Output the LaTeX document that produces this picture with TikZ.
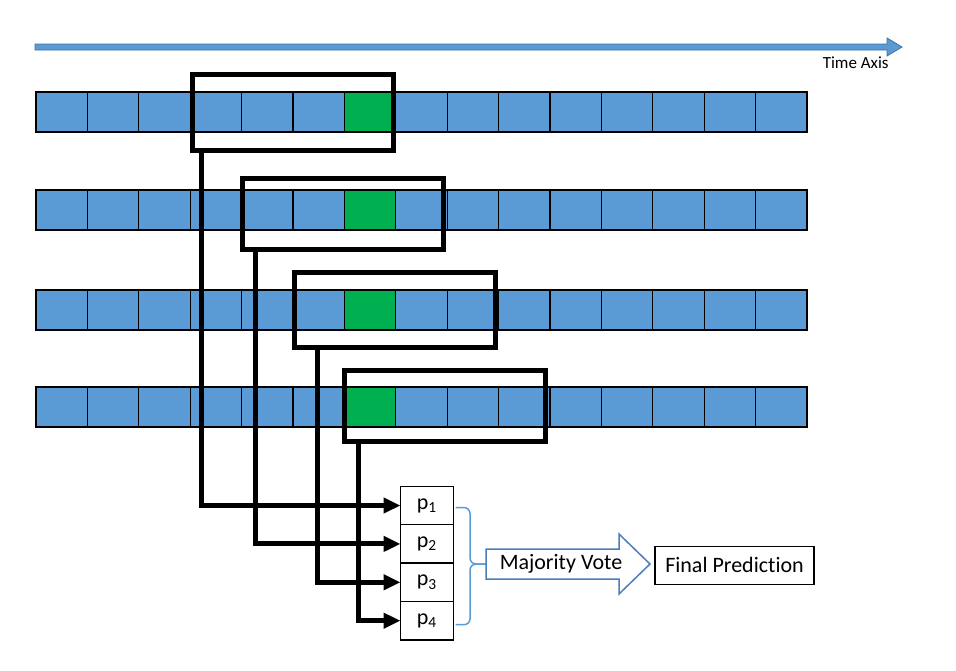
\documentclass[tikz,border=0pt]{standalone}
\usepackage{fontspec}
\setmainfont[Ligatures=CommonOff]{Carlito}
\usetikzlibrary{positioning,arrows.meta}

\definecolor{cellblue}{HTML}{5B9BD5}
\definecolor{hitgreen}{HTML}{00B050}
\definecolor{axisedge}{HTML}{41719C}
\definecolor{voteedge}{HTML}{4A7EBB}

\begin{document}
\begin{tikzpicture}[x=0.5pt,y=-0.5pt,>={Triangle[length=8.5pt,width=7.5pt]},
    cell/.style={draw=black,fill=cellblue,line width=0.55pt,minimum width=25.7pt,minimum height=20pt,inner sep=0pt,outer sep=0pt},
    hitcell/.style={cell,fill=hitgreen},
    window/.style={draw=black,line width=2.5pt,minimum width=100.5pt,inner sep=0pt},
    link/.style={->,line width=2.5pt},
    pbox/.style={draw=black,line width=0.75pt,minimum width=26.5pt,minimum height=19.2pt,inner sep=0pt,outer sep=0pt,font=\fontsize{11}{13}\selectfont},
    bracket/.style={draw=cellblue,line width=0.75pt,rounded corners=3pt},
    vote arrow/.style={draw=voteedge,fill=white,line width=0.75pt},
    label/.style={font=\fontsize{11}{13}\selectfont,inner sep=0pt}]

\useasboundingbox (0,0) rectangle (956,670);

\coordinate (t0) at (35,44);
\coordinate (t1) at (902,47);
\fill[cellblue,draw=axisedge,line width=0.4pt] (t0) -- (887,44) -- (887,38) -- (t1) -- (887,56) -- (887,50) -- (35,50) -- cycle;
\node[anchor=base east,inner sep=0pt,font=\fontsize{8.5}{10}\selectfont] (axis) at (889,68) {Time Axis};

\foreach \r/\y in {1/112,2/210,3/310,4/407}{
  \foreach \c in {1,...,15}{
    \ifnum\c=7 \def\st{hitcell}\else\def\st{cell}\fi
    \node[\st] (c\r-\c) at ({36+51.4*(\c-0.5)},\y) {};
  }
}

\foreach \n/\x/\y/\h in {1/293/112.5/38,2/343/214/35.5,3/394.5/310/37.5,4/445/406/35.5}
  \node[window,minimum height=\h pt] (w\n) at (\x,\y) {};

\node[pbox] (p1) at (427,505.5) {p\textsubscript{1}};
\node[pbox,below=0pt of p1] (p2) {p\textsubscript{2}};
\node[pbox,below=0pt of p2] (p3) {p\textsubscript{3}};
\node[pbox,below=0pt of p3] (p4) {p\textsubscript{4}};

\foreach \n/\s in {1/5.5,2/7.5,3/13,4/8}
  \draw[link] ([xshift=\s pt]w\n.south west) |- (p\n.west);

\coordinate (bmid) at (470,564);
\coordinate (btip) at (486,564);
\draw[bracket] ([xshift=1pt,yshift=-1pt]p1.east) -| (bmid) -- (btip);
\draw[bracket] ([xshift=1pt,yshift=-2pt]p4.east) -| (bmid) -- (btip);

\draw[vote arrow] (486,549) -- (619,549) -- (619,534) -- (650,564) -- (619,594) -- (619,579) -- (486,579) -- cycle;
\node[label] (vote) at (561,564) {Majority Vote};

\node[label,draw=black,line width=0.8pt,minimum width=79.5pt,minimum height=19pt] (final) at (734.5,565.3) {Final Prediction};

\end{tikzpicture}
\end{document}
